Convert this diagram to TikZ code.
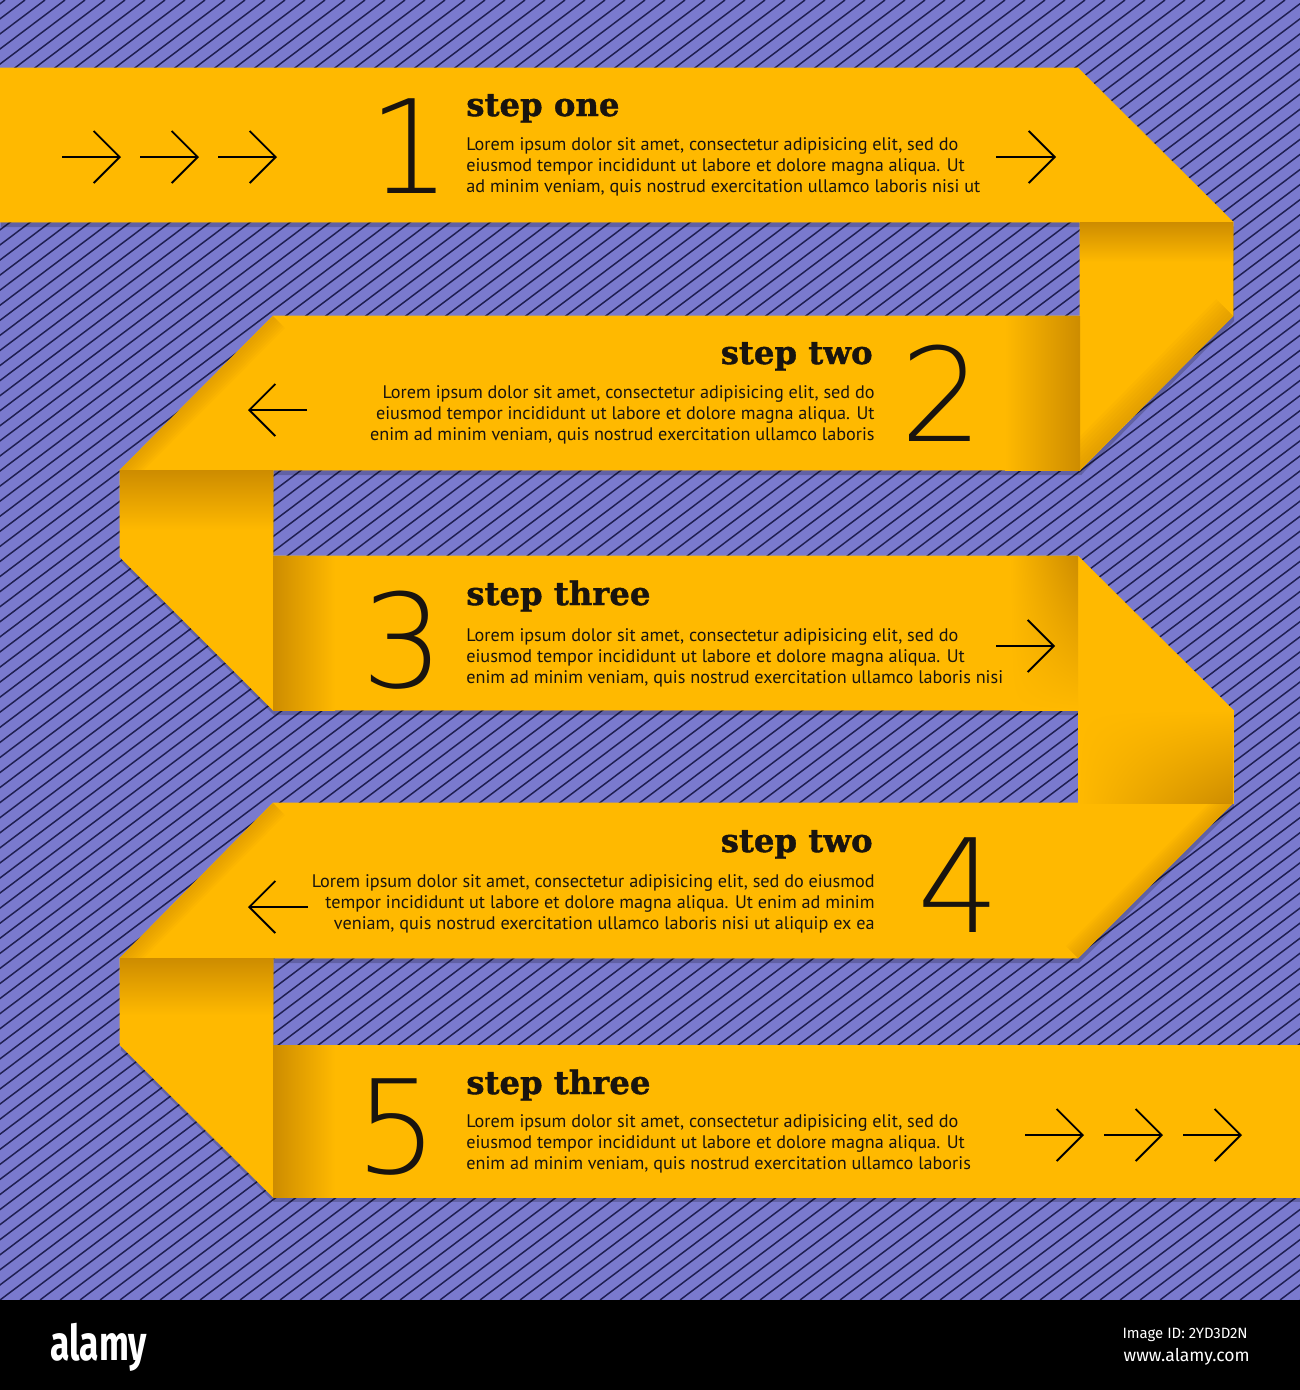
\documentclass[tikz,border=0pt]{standalone}
\usepackage{graphicx}
\usepackage{fontspec}
\setmainfont{PT Sans}
\newfontfamily\titlefont{DejaVu Serif}[BoldFeatures={FakeBold=1.2}]
\newfontfamily\logofont{Fira Sans}
\IfFontExistsTF{DejaVuSans-ExtraLight.ttf}
  {\newfontfamily\numfont{DejaVuSans-ExtraLight.ttf}}
  {\newfontfamily\numfont{Fira Sans}}
\usetikzlibrary{arrows.meta,calc,shadings}
\definecolor{bgpurple}{RGB}{122,122,206}
\definecolor{stripe}{RGB}{32,32,82}
\definecolor{ribbon}{RGB}{255,185,0}
\definecolor{ribbondark}{RGB}{205,140,0}
\definecolor{ink}{RGB}{25,20,15}
\newcommand\bandone{(0,68) -- (1078,68) -- (1233,222) -- (0,222) -- cycle}
\newcommand\foldone{(1080,222) -- (1233,222) -- (1233,316) -- (1080,470) -- cycle}
\newcommand\bandtwo{(273,316) -- (1080,316) -- (1080,470) -- (120,470) -- cycle}
\newcommand\foldtwo{(120,470) -- (273,470) -- (273,710) -- (120,557) -- cycle}
\newcommand\bandthree{(273,556) -- (1078,556) -- (1233,710) -- (273,710) -- cycle}
\newcommand\foldthree{(1078,710) -- (1233,710) -- (1233,803) -- (1078,803) -- cycle}
\newcommand\bandfour{(273,803) -- (1233,803) -- (1078,958) -- (120,958) -- cycle}
\newcommand\foldfour{(120,958) -- (273,958) -- (273,1197) -- (120,1045) -- cycle}
\newcommand\bandfive{(273,1045) -- (1300,1045) -- (1300,1197) -- (273,1197) -- cycle}
\newcommand\creaseshade[4]{%
  \foreach \w in {3,6,...,24}
    \fill[ribbondark,opacity=.08] #1 -- #2 -- ++(\w*#3,\w*#4) -- ($#1+(\w*#3,\w*#4)$) -- cycle;}
\begin{document}
\begin{tikzpicture}
[x=0.02cm,y=-0.02cm,%
  every node/.style={inner sep=0pt,text=ink},%
  stepnum/.style={font=\numfont\fontsize{74}{76}\selectfont,anchor=base},%
  stephead/.style={font=\titlefont\bfseries\fontsize{18.4}{20}\selectfont},%
  stepbody/.style={font=\fontsize{10.36}{11.9}\selectfont},%
  fwd/.style={line width=1.1pt,-{Straight Barb[length=0.52cm,width=1.04cm]}},%
  paper/.style={fill=ribbon,draw=ribbon,line width=0.3pt},%
  lift/.style={fill=black,opacity=0.2,shift={(1,5)}}]
\useasboundingbox (0,0) rectangle (1300,1390);
\fill[bgpurple] (0,0) rectangle (1300,1300);
\begin{scope}
  \clip (0,0) rectangle (1300,1300);
  \foreach \x in {-1800,-1780,...,1300}
    \draw[stripe,line width=0.85pt] (\x,1300) -- ++(1725,-1300);
\end{scope}
\fill[black] (0,1300) rectangle (1300,1390);

\fill[lift] \bandone;
\fill[lift] \foldone;
\fill[lift] \bandtwo;
\fill[lift] \foldtwo;
\fill[lift] \bandthree;
\fill[lift] \foldthree;
\fill[lift] \bandfour;
\fill[lift] \foldfour;
\fill[lift] \bandfive;

\path[paper] \bandone;
\path[paper] \foldone;
\path[paper] \bandtwo;
\path[paper] \foldtwo;
\path[paper] \bandthree;
\path[paper] \foldthree;
\path[paper] \bandfour;
\path[paper] \foldfour;
\path[paper] \bandfive;

\shade[top color=ribbondark,bottom color=ribbon] (1080,222) rectangle (1233,262);
\begin{scope}
  \clip \foldone;
  \creaseshade{(1233,316)}{(1080,470)}{-0.7}{-0.7}
\end{scope}
\shade[left color=ribbon,right color=ribbondark] (1005,316) rectangle (1080,470);
\begin{scope}
  \clip \bandtwo;
  \creaseshade{(273,316)}{(120,470)}{0.5}{0.5}
\end{scope}
\shade[top color=ribbondark,bottom color=ribbon] (120,470) rectangle (273,530);
\shade[left color=ribbondark,right color=ribbon] (273,556) rectangle (335,710);
\shade[upper left=ribbon,upper right=ribbondark,lower left=ribbon,lower right=ribbon] (1010,556) rectangle (1078,710);
\shade[upper left=ribbon,upper right=ribbon,lower left=ribbon,lower right=ribbondark] (1078,710) rectangle (1233,803);
\begin{scope}
  \clip \bandfour;
  \creaseshade{(1233,803)}{(1078,958)}{-0.5}{-0.5}
  \creaseshade{(273,803)}{(120,958)}{0.5}{0.5}
\end{scope}
\shade[top color=ribbondark,bottom color=ribbon] (120,958) rectangle (273,1015);
\shade[left color=ribbondark,right color=ribbon] (273,1045) rectangle (335,1197);

\foreach \x in {62,140,218}
  \draw[fwd] (\x,157) -- ++(59,0);
\draw[fwd] (996,157) -- (1056,157);
\draw[fwd] (307,410) -- (248,410);
\draw[fwd] (996,646) -- (1055,646);
\draw[fwd] (308,907) -- (248,907);
\foreach \x in {1025,1104,1183}
  \draw[fwd] (\x,1135) -- ++(59,0);

\node[stepnum] (num1) at (410,193) {1};
\node[stephead,anchor=base west] (head1) at (466,116) {step one};
\node[stepbody,anchor=base west,align=left] (body1) at (466,192)
  {Lorem ipsum dolor sit amet, consectetur adipisicing elit, sed do\\
   eiusmod tempor incididunt ut labore et dolore magna aliqua. Ut\\
   ad minim veniam, quis nostrud exercitation ullamco laboris nisi ut};

\node[stepnum] (num2) at (942,441) {2};
\node[stephead,anchor=base east] (head2) at (873,364) {step two};
\node[stepbody,anchor=base east,align=right] (body2) at (875,440)
  {Lorem ipsum dolor sit amet, consectetur adipisicing elit, sed do\\
   eiusmod tempor incididunt ut labore et dolore magna aliqua. Ut\\
   enim ad minim veniam, quis nostrud exercitation ullamco laboris};

\node[stepnum] (num3) at (403,687) {3};
\node[stephead,anchor=base west] (head3) at (466,605) {step three};
\node[stepbody,anchor=base west,align=left] (body3) at (466,683)
  {Lorem ipsum dolor sit amet, consectetur adipisicing elit, sed do\\
   eiusmod tempor incididunt ut labore et dolore magna aliqua. Ut\\
   enim ad minim veniam, quis nostrud exercitation ullamco laboris nisi};

\node[stepnum] (num4) at (959,932) {4};
\node[stephead,anchor=base east] (head4) at (873,852) {step two};
\node[stepbody,anchor=base east,align=right] (body4) at (875,929)
  {Lorem ipsum dolor sit amet, consectetur adipisicing elit, sed do eiusmod\\
   tempor incididunt ut labore et dolore magna aliqua. Ut enim ad minim\\
   veniam, quis nostrud exercitation ullamco laboris nisi ut aliquip ex ea};

\node[stepnum] (num5) at (397,1173) {5};
\node[stephead,anchor=base west] (head5) at (466,1094) {step three};
\node[stepbody,anchor=base west,align=left] (body5) at (466,1169)
  {Lorem ipsum dolor sit amet, consectetur adipisicing elit, sed do\\
   eiusmod tempor incididunt ut labore et dolore magna aliqua. Ut\\
   enim ad minim veniam, quis nostrud exercitation ullamco laboris};

\node[text=white,anchor=base west] (logo) at (50,1360)
  {\logofont\bfseries\fontsize{28}{30}\selectfont\scalebox{0.72}[1]{alamy}};
\node[text=white,anchor=base east,font=\logofont\fontsize{8.5}{10}\selectfont] (imageid) at (1248,1338) {Image ID: 2YD3D2N};
\node[text=white,anchor=base east,font=\logofont\fontsize{10}{12}\selectfont] (website) at (1250,1361) {www.alamy.com};
\end{tikzpicture}
\end{document}
